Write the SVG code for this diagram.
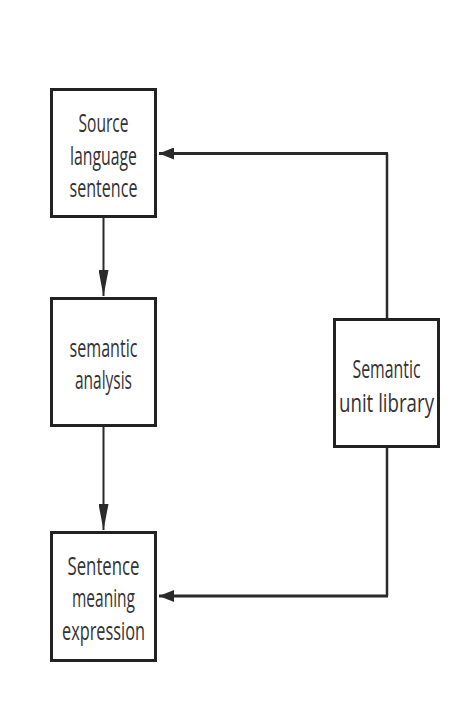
<svg xmlns="http://www.w3.org/2000/svg" width="474" height="720" viewBox="0 0 474 720">
<style>
.box{fill:#fff;stroke:#222;stroke-width:3}
.t{font-family:"Open Sans","Noto Sans","Liberation Sans",sans-serif;font-size:25px;fill:#333;text-anchor:middle}
.c{fill:none;stroke:#2a2a2a}
</style>
<defs>
<marker id="arrV" markerUnits="userSpaceOnUse" viewBox="0 0 26 10" refX="26" refY="5" markerWidth="26" markerHeight="10" orient="auto"><path d="M0,0 L26,5 L0,10 z" fill="#2a2a2a"/></marker>
<marker id="arrH" markerUnits="userSpaceOnUse" viewBox="0 0 15 12" refX="15" refY="6" markerWidth="15" markerHeight="12" orient="auto"><path d="M0,0 L15,6 L0,12 z" fill="#2a2a2a"/></marker>
</defs>
<rect width="474" height="720" fill="#fff"/>
<g id="connectors">
<path class="c" d="M103.5,217 V296" stroke-width="2" marker-end="url(#arrV)"/>
<path class="c" d="M103.5,427 V530" stroke-width="2" marker-end="url(#arrV)"/>
<path class="c" d="M387,318 V153.5" stroke="#555" stroke-width="2.5"/>
<path class="c" d="M388,153.5 H159" stroke-width="3" marker-end="url(#arrH)"/>
<path class="c" d="M387,447 V596" stroke="#555" stroke-width="2.5"/>
<path class="c" d="M388,596 H159" stroke-width="3" marker-end="url(#arrH)"/>
</g>
<g id="source">
<rect class="box" x="51.5" y="89.5" width="104" height="127"/>
<text class="t" x="103.5" y="132" textLength="50" lengthAdjust="spacingAndGlyphs">Source</text>
<text class="t" x="103.5" y="165" textLength="67" lengthAdjust="spacingAndGlyphs">language</text>
<text class="t" x="103.5" y="197" textLength="68" lengthAdjust="spacingAndGlyphs">sentence</text>
</g>
<g id="analysis">
<rect class="box" x="51.5" y="298.5" width="104" height="127"/>
<text class="t" x="103.5" y="357" textLength="68" lengthAdjust="spacingAndGlyphs">semantic</text>
<text class="t" x="103.5" y="389" textLength="57" lengthAdjust="spacingAndGlyphs">analysis</text>
</g>
<g id="expression">
<rect class="box" x="51.5" y="532.5" width="104" height="128"/>
<text class="t" x="103.5" y="575" textLength="72" lengthAdjust="spacingAndGlyphs">Sentence</text>
<text class="t" x="103.5" y="607" textLength="63" lengthAdjust="spacingAndGlyphs">meaning</text>
<text class="t" x="103.5" y="640" textLength="83" lengthAdjust="spacingAndGlyphs">expression</text>
</g>
<g id="library">
<rect class="box" x="334.5" y="319.5" width="104" height="127"/>
<text class="t" x="386.5" y="378" textLength="68" lengthAdjust="spacingAndGlyphs">Semantic</text>
<text class="t" x="386.5" y="412" textLength="95" lengthAdjust="spacingAndGlyphs">unit library</text>
</g>
</svg>
